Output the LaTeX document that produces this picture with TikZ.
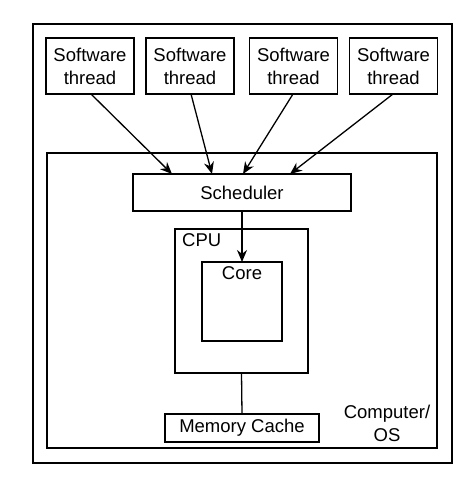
\documentclass[tikz,border=0pt]{standalone}
\usepackage{fontspec}
\setmainfont{Liberation Sans}
\usetikzlibrary{arrows.meta}
\begin{document}
\begin{tikzpicture}[x=1pt,y=-1pt,
  box/.style={draw,line width=1.3pt,inner sep=0pt,outer sep=0pt},
  txt/.style={font=\fontsize{18.5}{23}\selectfont,inner sep=0pt,align=center},
  arr/.style={line width=1.3pt,-{Stealth[length=12pt,width=10pt]}},
  ln/.style={line width=1.3pt}]
\useasboundingbox (0,0) rectangle (474,489);
\node[box,minimum width=419pt,minimum height=439pt] (outer) at (242.5,243.5) {};
\node[box,minimum width=390pt,minimum height=295pt] (inner) at (242,300.5) {};
\foreach \i/\x in {1/90,2/190,3/293.5,4/393.5}{
  \node[box,txt,minimum width=88pt,minimum height=56pt] (t\i) at (\x,66) {Software\\thread};
}
\node[box,txt,minimum width=218pt,minimum height=37pt] (sched) at (242,192.5) {Scheduler};
\node[box,minimum width=133pt,minimum height=144pt] (cpu) at (241.5,301) {};
\node[txt,anchor=north west] (cpul) at (182,233) {CPU};
\node[box,minimum width=80pt,minimum height=79pt] (core) at (242,301.5) {};
\node[txt,anchor=north] (corel) at (242,266) {Core};
\node[box,txt,minimum width=154pt,minimum height=28pt] (mem) at (242,428) {Memory Cache};
\node[txt] (os) at (387,423) {Computer/\\OS};
\draw[arr] ([xshift=1pt]t1.south) -- ([xshift=-70pt]sched.north);
\draw[arr] ([xshift=1pt]t2.south) -- ([xshift=-30pt]sched.north);
\draw[arr] ([xshift=-0.5pt]t3.south) -- ([xshift=1pt]sched.north);
\draw[arr] ([xshift=-0.5pt]t4.south) -- ([xshift=48pt]sched.north);
\draw[arr] (sched.south) -- (core.north);
\draw[ln] (cpu.south) -- (mem.north);
\end{tikzpicture}
\end{document}
